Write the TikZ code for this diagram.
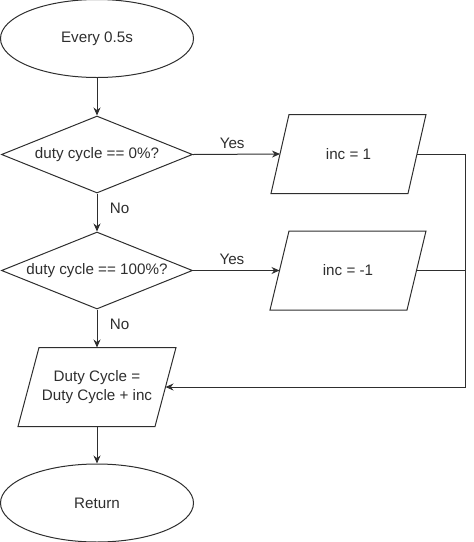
\documentclass[tikz,border=0pt]{standalone}
\usepackage{fontspec}
\setmainfont{Liberation Sans}
\usetikzlibrary{shapes.geometric,arrows.meta}
\begin{document}
\begin{tikzpicture}[x=1pt,y=-1pt,font=\fontsize{15.2}{19}\selectfont,line width=1pt,color=black!82,
  term/.style={ellipse,draw,minimum width=193pt,minimum height=78pt,inner sep=0pt},
  test/.style={diamond,draw,aspect=2.5,minimum width=191pt,minimum height=77pt,inner sep=0pt},
  io/.style={rectangle,minimum width=136pt,minimum height=78pt,inner sep=0pt,align=center},
  flow/.style={-{Stealth[length=8pt,width=7pt]}}]
\useasboundingbox (0,0) rectangle (474,542);
% shapes
\node[term] (start) at (97,38.5) {Every 0.5s};
\node[test] (zero) at (97,154.5) {duty cycle == 0\%?};
\node[test] (full) at (97,270.5) {duty cycle == 100\%?};
\node[io] (incup) at (348.5,154) {inc = 1};
\node[io] (incdown) at (348,270.5) {inc = -1};
\node[io] (update) at (97,387) {Duty Cycle =\\Duty Cycle + inc};
\node[term] (ret) at (97,503) {Return};
\coordinate (rail) at (465,0);
% parallelogram outlines
\foreach \n/\s in {incup/9,incdown/9.5,update/10.5}
  \draw ([xshift=\s pt]\n.north west) -- ([xshift=\s pt]\n.north east) -- ([xshift=-\s pt]\n.south east) -- ([xshift=-\s pt]\n.south west) -- cycle;
% connectors
\draw[flow] (start.south) -- (zero.north);
\draw[flow] (zero.east) -- node[above,pos=.45,yshift=2pt] {Yes} (incup.west);
\draw[flow] (zero.south) -- node[right,pos=.38,xshift=9pt] {No} (full.north);
\draw[flow] (full.east) -- node[above,pos=.45,yshift=2pt] {Yes} (incdown.west);
\draw[flow] (full.south) -- node[right,pos=.4,xshift=9pt] {No} (update.north);
\draw[flow] (update.south) -- (ret.north);
\draw[flow] (incup.east) -- (incup.east -| rail) |- (update.east);
\draw (incdown.east) -- (incdown.east -| rail);
\end{tikzpicture}
\end{document}
